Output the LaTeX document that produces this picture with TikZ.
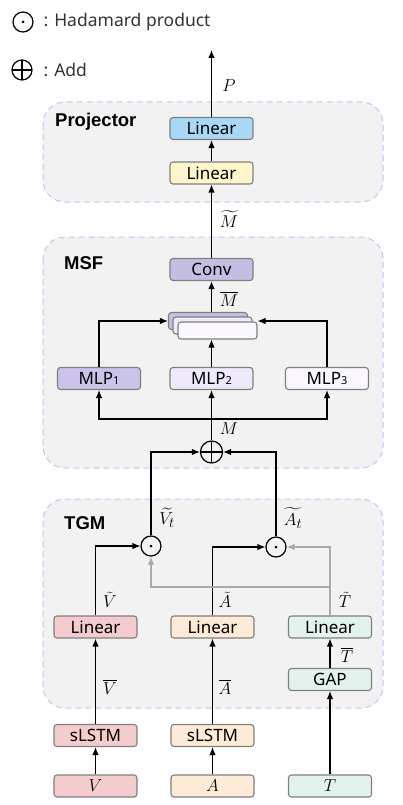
\documentclass[tikz,border=0pt]{standalone}
\usepackage{fontspec}
\usepackage{amsmath}
\newfontfamily\labelfont{Noto Sans}
\newfontfamily\titlefont{Liberation Sans}
\usetikzlibrary{arrows.meta,calc}

\definecolor{boxgray}{HTML}{7F7F7F}
\definecolor{grpline}{HTML}{C8C2F0}
\definecolor{grpfill}{HTML}{F2F2F2}
\definecolor{linegray}{HTML}{AAAAAA}
\definecolor{projblue}{HTML}{A8D8F6}
\definecolor{projyellow}{HTML}{FFF5CC}
\definecolor{convpurple}{HTML}{C6BDE3}
\definecolor{mlpone}{HTML}{CBC3EA}
\definecolor{mlptwo}{HTML}{EFEAFB}
\definecolor{mlpthree}{HTML}{FAF8FE}
\definecolor{vpink}{HTML}{F4CCCE}
\definecolor{abeige}{HTML}{FDEBD7}
\definecolor{tmint}{HTML}{E3F2ED}

% small digit written on the base line
\newcommand{\idx}[1]{{\fontsize{11}{11}\selectfont #1}}

\tikzset{
  blk/.style={draw=boxgray, line width=1.1pt, rounded corners=3pt,
    minimum width=83pt, minimum height=22pt, inner sep=0pt,
    font=\labelfont\fontsize{17}{18}\selectfont},
  stk/.style={blk, minimum width=79pt, minimum height=17pt},
  grp/.style={draw=grpline, fill=grpfill, dash pattern=on 6pt off 4pt,
    line width=1pt, rounded corners=22pt},
  arr/.style={-{Latex[length=8pt,width=6.5pt]}, line width=1.2pt},
  garr/.style={arr, draw=linegray, color=linegray},
  opr/.style={circle, draw, line width=1.2pt, minimum size=20pt, inner sep=0pt},
  hadamard/.style={opr, path picture={\fill (path picture bounding box.center) circle (1.5pt);}},
  addop/.style={opr, minimum size=22pt, path picture={
    \draw[line width=1.2pt] (path picture bounding box.north) -- (path picture bounding box.south)
      (path picture bounding box.west) -- (path picture bounding box.east);}},
  ttl/.style={font=\titlefont\bfseries\fontsize{18.5}{20}\selectfont, anchor=west, inner sep=0pt},
  legtxt/.style={font=\labelfont\fontsize{17.5}{19}\selectfont, text=black!80, anchor=west},
  lbl/.style={font=\fontsize{19}{20}\selectfont, inner sep=0pt},
}

\begin{document}
\begin{tikzpicture}[x=1pt, y=-1pt]
\useasboundingbox (0,0) rectangle (403,805);

% legend
\node[hadamard] (legdot) at (23,22) {};
\node[legtxt] (legdottxt) at (40,22) {: Hadamard product};
\node[addop, minimum size=20pt] (legadd) at (22,70) {};
\node[legtxt] (legaddtxt) at (40,70) {: Add};

% the three modules
\draw[grp] (43,102) rectangle (383,202);
\draw[grp] (43,237) rectangle (383,468);
\draw[grp] (43,499) rectangle (383,708);
\node[ttl] (projttl) at (55,122) {Projector};
\node[ttl] (msfttl) at (64,263) {MSF};
\node[ttl] (tgmttl) at (64,523) {TGM};

% projector
\node[blk, fill=projblue] (lintop) at (211.5,128.5) {Linear};
\node[blk, fill=projyellow] (linmid) at (211.5,173) {Linear};
\coordinate (out) at (211.5,50);

% MSF
\node[blk, fill=convpurple] (conv) at (211.5,269.5) {Conv};
\node[stk, fill=convpurple] (stk1) at (208,321) {};
\node[stk, fill=mlptwo] (stk2) at (212.5,325.5) {};
\node[stk, fill=mlpthree] (stk3) at (217.5,330.5) {};
\node[blk, fill=mlpone] (mlp1) at (99,378.5) {MLP\idx{1}};
\node[blk, fill=mlptwo] (mlp2) at (211.5,378.5) {MLP\idx{2}};
\node[blk, fill=mlpthree] (mlp3) at (327,378.5) {MLP\idx{3}};
\node[addop] (add) at (211.5,452) {};
\coordinate (split) at (211.5,419);

% TGM
\node[hadamard] (hadv) at (151,546) {};
\node[hadamard] (hada) at (276,547) {};
\node[blk, fill=vpink] (linv) at (95.5,627) {Linear};
\node[blk, fill=abeige] (lina) at (212.5,627) {Linear};
\node[blk, fill=tmint] (lint) at (330,627) {Linear};
\node[blk, fill=tmint] (gap) at (330,679.5) {GAP};
\coordinate (tsplit) at (330,587);

% encoders and inputs
\node[blk, fill=vpink] (lstmv) at (95.5,735.5) {sLSTM};
\node[blk, fill=abeige] (lstma) at (212.5,735.5) {sLSTM};
\node[blk, fill=vpink, font=\fontsize{19}{20}\selectfont] (inv) at (95.5,786) {$V$};
\node[blk, fill=abeige, font=\fontsize{19}{20}\selectfont] (ina) at (212.5,786) {$A$};
\node[blk, fill=tmint, font=\fontsize{19}{20}\selectfont] (int) at (330,786) {$T$};

% connectors
\draw[arr] (inv) -- (lstmv);
\draw[arr] (ina) -- (lstma);
\draw[arr] (int) -- (gap);
\draw[arr] (lstmv) -- (linv);
\draw[arr] (lstma) -- (lina);
\draw[arr] (gap) -- (lint);
\draw[arr] (linv.north) |- (hadv.west);
\draw[arr] (lina.north) |- (hada.west);
\draw[garr] (lint.north) |- (hada.east);
\draw[garr] (tsplit) -| (hadv.south);
\draw[arr] (hadv.north) |- (add.west);
\draw[arr] (hada.north) |- (add.east);
\draw[arr] (add.north) -- (mlp2.south);
\draw[arr] (split) -| (mlp1.south);
\draw[arr] (split) -| (mlp3.south);
\draw[arr] (mlp1.north) |- (stk1.west);
\draw[arr] (mlp3.north) |- (stk3.east |- stk1.west);
\draw[arr] (mlp2.north) -- (mlp2.north |- stk3.south);
\draw[arr] (conv.south |- stk1.north) -- (conv.south);
\draw[arr] (conv.north) -- (linmid.south);
\draw[arr] (linmid.north) -- (lintop.south);
\draw[arr] (lintop.north) -- (out);

% labels
\node[lbl] (lp) at (229,86) {$P$};
\node[lbl] (lmt) at (229,219) {$\widetilde{M}$};
\node[lbl] (lmb) at (229,299) {$\overline{M}$};
\node[lbl] (lm) at (229,429) {$M$};
\node[lbl] (lvt) at (167,518) {$\widetilde{V_t}$};
\node[lbl] (lat) at (293,518) {$\widetilde{A_t}$};
\node[lbl] (lvtil) at (110,600) {$\tilde{V}$};
\node[lbl] (latil) at (225,600) {$\tilde{A}$};
\node[lbl] (lttil) at (345,600) {$\tilde{T}$};
\node[lbl] (ltbar) at (347,655) {$\overline{T}$};
\node[lbl] (lvbar) at (110,687) {$\overline{V}$};
\node[lbl] (labar) at (225,687) {$\overline{A}$};
\end{tikzpicture}
\end{document}
